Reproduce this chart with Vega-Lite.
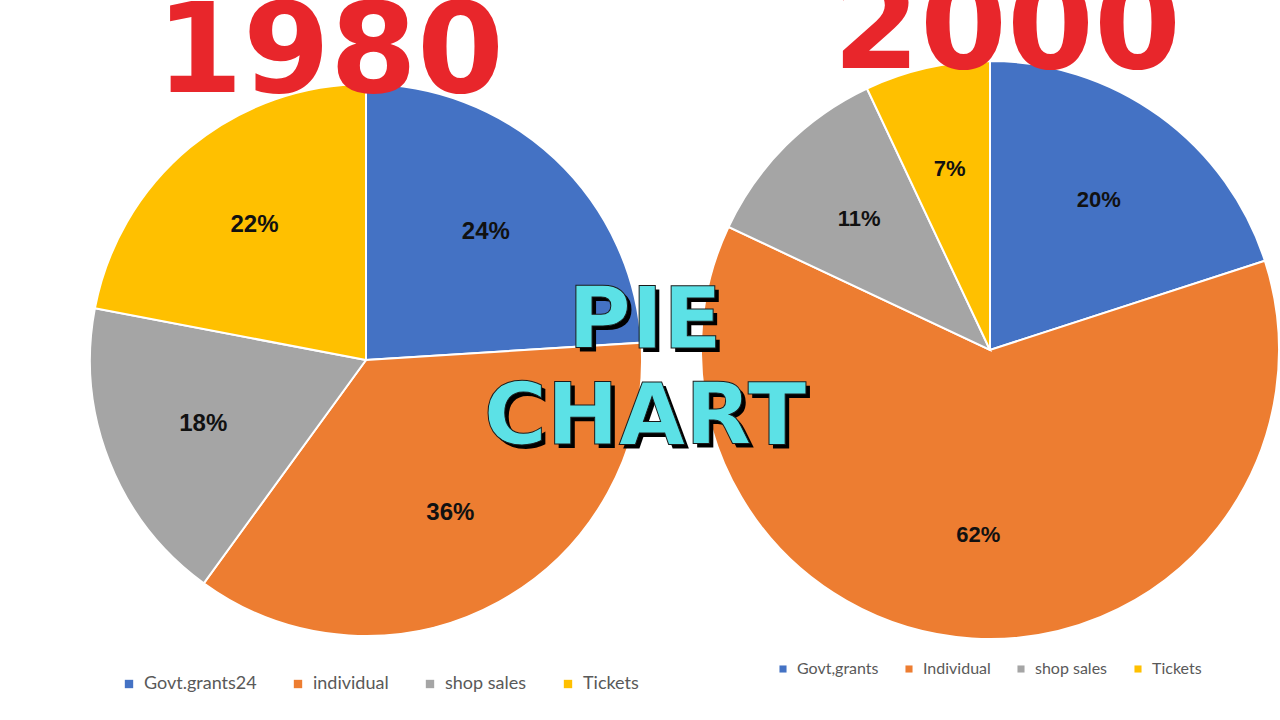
{
  "$schema": "https://vega.github.io/schema/vega-lite/v6.json",
  "description": "Two pie charts comparing funding sources in 1980 and 2000.",
  "width": 1280,
  "height": 720,
  "padding": 0,
  "autosize": {"type": "none"},
  "background": "#ffffff",
  "config": {"view": {"stroke": null}},
  "datasets": {
    "shares": [
      {"year": "1980", "source": "Govt.grants24", "rank": 1, "share": 24, "label": "24%"},
      {"year": "1980", "source": "individual", "rank": 2, "share": 36, "label": "36%"},
      {"year": "1980", "source": "shop sales", "rank": 3, "share": 18, "label": "18%"},
      {"year": "1980", "source": "Tickets", "rank": 4, "share": 22, "label": "22%"},
      {"year": "2000", "source": "Govt,grants", "rank": 1, "share": 20, "label": "20%"},
      {"year": "2000", "source": "Individual", "rank": 2, "share": 62, "label": "62%"},
      {"year": "2000", "source": "shop sales", "rank": 3, "share": 11, "label": "11%"},
      {"year": "2000", "source": "Tickets", "rank": 4, "share": 7, "label": "7%"}
    ]
  },
  "layer": [
    {
      "data": {"name": "shares"},
      "transform": [{"filter": "datum.year == '1980'"}],
      "encoding": {
        "x": {"field": "year", "type": "nominal", "axis": null,
              "scale": {"type": "point", "padding": 0, "domain": ["1980", "2000"], "range": [366, 990]}},
        "y": {"field": "year", "type": "nominal", "axis": null,
              "scale": {"type": "point", "padding": 0, "domain": ["1980", "2000"], "range": [360, 350]}},
        "theta": {"field": "share", "type": "quantitative", "stack": true},
        "order": {"field": "rank", "type": "quantitative"},
        "color": {
          "field": "source", "type": "nominal",
          "scale": {"domain": ["Govt.grants24", "individual", "shop sales", "Tickets"],
                    "range": ["#4472C4", "#ED7D31", "#A5A5A5", "#FFC000"]},
          "legend": {"orient": "none", "legendX": 120, "legendY": 675, "direction": "horizontal",
                     "title": null, "symbolType": "square", "symbolSize": 70, "symbolStrokeWidth": 0,
                     "labelFontSize": 18, "labelFont": "Lato", "labelColor": "#595959",
                     "columnPadding": 32, "labelOffset": 6}
        }
      },
      "layer": [
        {"mark": {"type": "arc", "outerRadius": 276, "stroke": "#ffffff", "strokeWidth": 2}},
        {
          "mark": {"type": "text", "radius": 175, "fontSize": 24, "fontWeight": "bold", "font": "Liberation Sans"},
          "encoding": {
            "text": {"field": "label"},
            "color": {"value": "#111111"},
            "detail": {"field": "source"}
          }
        }
      ]
    },
    {
      "data": {"name": "shares"},
      "transform": [{"filter": "datum.year == '2000'"}],
      "encoding": {
        "x": {"field": "year", "type": "nominal", "axis": null,
              "scale": {"type": "point", "padding": 0, "domain": ["1980", "2000"], "range": [366, 990]}},
        "y": {"field": "year", "type": "nominal", "axis": null,
              "scale": {"type": "point", "padding": 0, "domain": ["1980", "2000"], "range": [360, 350]}},
        "theta": {"field": "share", "type": "quantitative", "stack": true},
        "order": {"field": "rank", "type": "quantitative"},
        "color": {
          "field": "source", "type": "nominal",
          "scale": {"domain": ["Govt,grants", "Individual", "shop sales", "Tickets"],
                    "range": ["#4472C4", "#ED7D31", "#A5A5A5", "#FFC000"]},
          "legend": {"orient": "none", "legendX": 775, "legendY": 661, "direction": "horizontal",
                     "title": null, "symbolType": "square", "symbolSize": 50, "symbolStrokeWidth": 0,
                     "labelFontSize": 16, "labelFont": "Lato", "labelColor": "#595959",
                     "columnPadding": 22, "labelOffset": 6}
        }
      },
      "layer": [
        {"mark": {"type": "arc", "outerRadius": 289, "stroke": "#ffffff", "strokeWidth": 2}},
        {
          "mark": {"type": "text", "radius": 185, "fontSize": 22, "fontWeight": "bold", "font": "Liberation Sans"},
          "encoding": {
            "text": {"field": "label"},
            "color": {"value": "#111111"},
            "detail": {"field": "source"}
          }
        }
      ]
    },
    {
      "data": {"values": [{"year": "1980"}]},
      "mark": {"type": "text", "font": "DejaVu Sans", "fontWeight": "bold", "fontSize": 125,
               "color": "#E8262B", "baseline": "alphabetic", "align": "center", "dx": -36, "dy": -268},
      "encoding": {
        "x": {"field": "year", "type": "nominal"},
        "y": {"field": "year", "type": "nominal"},
        "text": {"field": "year"}
      }
    },
    {
      "data": {"values": [{"year": "2000"}]},
      "mark": {"type": "text", "font": "DejaVu Sans", "fontWeight": "bold", "fontSize": 125,
               "color": "#E8262B", "baseline": "alphabetic", "align": "center", "dx": 17, "dy": -282},
      "encoding": {
        "x": {"field": "year", "type": "nominal"},
        "y": {"field": "year", "type": "nominal"},
        "text": {"field": "year"}
      }
    },
    {
      "data": {"values": [{"caption": "PIE\nCHART"}]},
      "mark": {"type": "text", "font": "DejaVu Sans", "fontWeight": "bold", "fontSize": 86,
               "lineBreak": "\n", "lineHeight": 96, "align": "center", "baseline": "middle",
               "color": "#000000", "dx": 9, "dy": -34},
      "encoding": {"text": {"field": "caption"}}
    },
    {
      "data": {"values": [{"caption": "PIE\nCHART"}]},
      "mark": {"type": "text", "font": "DejaVu Sans", "fontWeight": "bold", "fontSize": 86,
               "lineBreak": "\n", "lineHeight": 96, "align": "center", "baseline": "middle",
               "color": "#5CE1E6", "stroke": "#1a1a1a", "strokeWidth": 1, "dx": 5, "dy": -38},
      "encoding": {"text": {"field": "caption"}}
    }
  ],
  "resolve": {"scale": {"color": "independent"}, "legend": {"color": "independent"}}
}
